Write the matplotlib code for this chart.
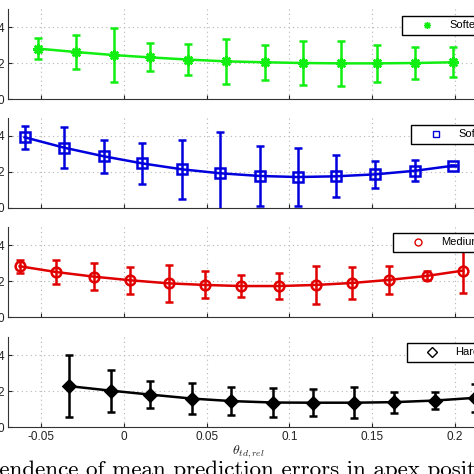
import matplotlib
matplotlib.use("Agg")
import matplotlib.pyplot as plt
from matplotlib.lines import Line2D

plt.rcParams['font.family'] = ['Liberation Sans', 'DejaVu Sans']
plt.rcParams['mathtext.fontset'] = 'cm'
plt.rcParams['axes.unicode_minus'] = False

# data
labels = ['Softer', 'Soft', 'Medium', 'Hard']
colors = ['#11ee11', '#0000dd', '#e00000', '#000000']

green_x = [-0.052, -0.029, -0.006, 0.016, 0.039, 0.062, 0.085, 0.108, 0.131, 0.153, 0.176, 0.199]
green_y = [2.80, 2.61, 2.44, 2.31, 2.19, 2.09, 2.04, 2.00, 1.98, 1.98, 2.00, 2.04]
green_e = [0.58, 0.96, 1.51, 0.78, 0.88, 1.27, 0.96, 1.20, 1.26, 1.04, 0.88, 0.84]

blue_x = [-0.060, -0.036, -0.012, 0.011, 0.035, 0.058, 0.082, 0.105, 0.128, 0.152, 0.176, 0.199]
blue_y = [3.93, 3.35, 2.87, 2.48, 2.15, 1.93, 1.78, 1.72, 1.76, 1.87, 2.07, 2.35]
blue_e = [0.64, 1.14, 0.91, 1.13, 1.63, 2.27, 1.66, 1.62, 1.17, 0.75, 0.57, 0.04]

red_x = [-0.063, -0.041, -0.018, 0.004, 0.027, 0.049, 0.071, 0.094, 0.116, 0.138, 0.160, 0.183, 0.205]
red_y = [2.82, 2.50, 2.24, 2.04, 1.87, 1.78, 1.72, 1.72, 1.78, 1.89, 2.06, 2.28, 2.58]
red_e = [0.36, 0.66, 0.75, 0.75, 1.04, 0.75, 0.61, 0.74, 1.08, 0.87, 0.76, 0.25, 1.27]

black_x = [-0.033, -0.008, 0.016, 0.041, 0.065, 0.090, 0.114, 0.139, 0.163, 0.188, 0.212]
black_y = [2.27, 2.02, 1.80, 1.58, 1.44, 1.36, 1.35, 1.35, 1.38, 1.47, 1.62]
black_e = [1.72, 1.17, 0.77, 0.87, 0.79, 0.80, 0.74, 0.85, 0.58, 0.49, 0.77]

series = [(green_x, green_y, green_e), (blue_x, blue_y, blue_e),
          (red_x, red_y, red_e), (black_x, black_y, black_e)]
markers = [(8, 2, 0), 's', 'o', 'D']
msizes = [7.5, 6.5, 7, 6.5]
mfaces = ['none', 'none', 'none', '#000000']

xticks = [-0.05, 0, 0.05, 0.1, 0.15, 0.2]
xticklabels = ['-0.05', '0', '0.05', '0.1', '0.15', '0.2']
yticks = [0, 2, 4]

W = H = 474.0
fig = plt.figure(figsize=(4.74, 4.74), dpi=100)

# pixel positions: y of the zero line, legend left edge, legend top offset
zero_px = [99, 208, 317, 427]
leg_left = [402, 411, 393, 407]
leg_top = [7, 7, 6, 6]
ax_left, ax_w, ax_h = 8, 480, 90

for i in range(4):
    ax = fig.add_axes([ax_left / W, (H - zero_px[i]) / H, ax_w / W, ax_h / H])
    x, y, e = series[i]
    ax.errorbar(x, y, yerr=e, color=colors[i], lw=1.8, elinewidth=1.8,
                capsize=3.2, capthick=1.8, marker=markers[i], ms=msizes[i],
                mfc=mfaces[i], mec=colors[i], mew=1.8, zorder=3)
    ax.set_xlim(-0.07, 0.22)
    ax.set_ylim(0, 5)
    ax.set_xticks(xticks)
    ax.set_yticks(yticks)
    if i == 3:
        ax.set_xticklabels(xticklabels)
    else:
        ax.set_xticklabels([])
    ax.grid(True, color='#b5b5b5', linestyle=(0, (1, 3)), lw=0.8)
    ax.spines['top'].set_visible(False)
    ax.spines['right'].set_visible(False)
    ax.spines['left'].set_color('#333333')
    ax.spines['bottom'].set_color('#333333')
    ax.tick_params(direction='in', length=3, width=0.8, labelsize=8.5,
                   pad=3, colors='#222222')

    h = Line2D([], [], ls='none', marker=markers[i], ms=5, mfc='none',
               mec=colors[i], mew=1.0)
    anchor = ((leg_left[i] - ax_left) / ax_w, 1 - leg_top[i] / ax_h)
    leg = ax.legend([h], [labels[i]], loc='upper left', bbox_to_anchor=anchor,
                    borderaxespad=0, fancybox=False, fontsize=8,
                    handlelength=3.7, handletextpad=0.2, borderpad=0.4,
                    framealpha=1)
    leg.get_frame().set_edgecolor('black')
    leg.get_frame().set_linewidth(1.0)

fig.text(248 / W, 1 - 452 / H, r'$\theta_{td,rel}$', ha='center', va='center',
         fontsize=10, color='#222222')

fig.text(-41.2 / W, -1.5 / H, 'Dependence of mean prediction errors in apex position',
         family='cmr10', fontsize=16.6, ha='left', va='baseline')

fig.savefig('out.png', dpi=100)
